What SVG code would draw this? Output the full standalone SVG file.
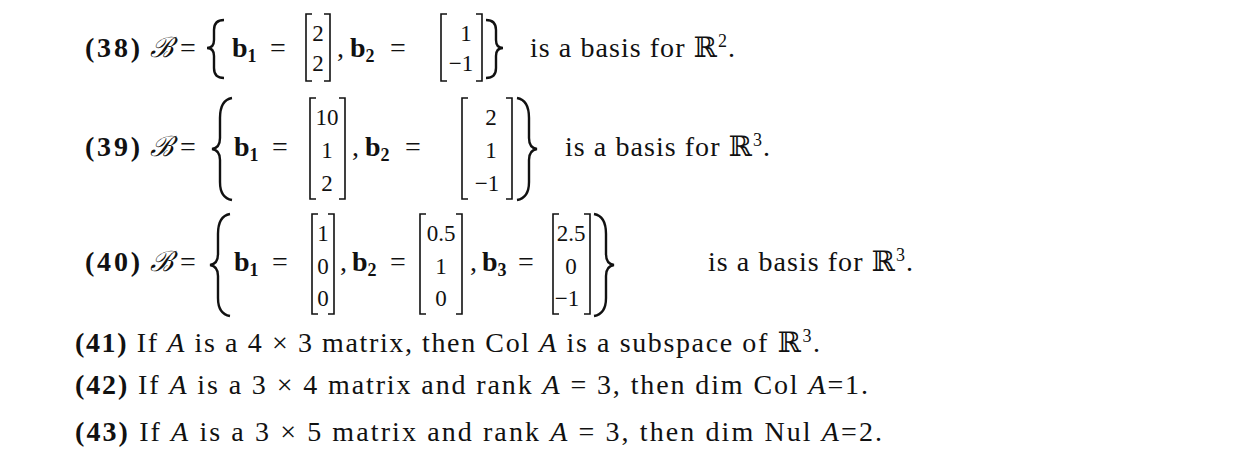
<svg xmlns="http://www.w3.org/2000/svg" width="1250" height="468" viewBox="0 0 1250 468">
<style>
text{font-family:"Liberation Serif","DejaVu Serif",serif;font-size:28px;fill:#111}
.b{font-weight:bold}
.m{font-size:23px}
.i{font-style:italic}
.s{font-size:18px;font-weight:bold}
.br{fill:none;stroke:#111;stroke-width:1.6}
.cb{fill:none;stroke:#111;stroke-width:2.4}
</style>
<rect width="1250" height="468" fill="#fff"/>
<g id="row38">
<text x="85" y="57" class="b" textLength="55">(38)</text>
<text x="150" y="57"><tspan class="i">ℬ</tspan> =</text>
<path class="cb" d="M224,20 Q214,20 214,30 L214,40 Q214,48 207,48 Q214,48 214,56 L214,68 Q214,78 224,78"/>
<text x="232" y="57" class="b">b<tspan class="s" dy="5">1</tspan></text>
<text x="270" y="57">=</text>
<path class="br" d="M312,14 H306 V81 H312 M324,14 H330 V81 H324"/>
<text class="m" x="318" y="41" text-anchor="middle">2</text>
<text class="m" x="318" y="71" text-anchor="middle">2</text>
<text x="337" y="57">,</text>
<text x="350" y="57" class="b">b<tspan class="s" dy="5">2</tspan></text>
<text x="390" y="57">=</text>
<path class="br" d="M447,14 H441 V81 H447 M476,14 H482 V81 H476"/>
<text class="m" x="466" y="41" text-anchor="middle">1</text>
<text class="m" x="461" y="71" text-anchor="middle">−1</text>
<path class="cb" d="M486,20 Q496,20 496,30 L496,40 Q496,48 503,48 Q496,48 496,56 L496,68 Q496,78 486,78"/>
<text x="530" y="57" textLength="205">is a basis for ℝ<tspan font-size="18" dy="-10">2</tspan><tspan dy="10">.</tspan></text>
</g>
<g id="row39">
<text x="85" y="156" class="b" textLength="55">(39)</text>
<text x="150" y="156"><tspan class="i">ℬ</tspan> =</text>
<path class="cb" d="M232,98 Q220,100 220,118 L220,138 Q220,148 212,149 Q220,150 220,160 L220,182 Q220,198 232,200"/>
<text x="234" y="156" class="b">b<tspan class="s" dy="5">1</tspan></text>
<text x="272" y="156">=</text>
<path class="br" d="M316,98 H310 V199 H316 M339,98 H345 V199 H339"/>
<text class="m" x="327" y="125" text-anchor="middle">10</text>
<text class="m" x="327" y="158" text-anchor="middle">1</text>
<text class="m" x="327" y="191" text-anchor="middle">2</text>
<text x="352" y="156">,</text>
<text x="365" y="156" class="b">b<tspan class="s" dy="5">2</tspan></text>
<text x="405" y="156">=</text>
<path class="br" d="M468,98 H462 V199 H468 M506,98 H512 V199 H506"/>
<text class="m" x="491" y="125" text-anchor="middle">2</text>
<text class="m" x="491" y="158" text-anchor="middle">1</text>
<text class="m" x="487" y="191" text-anchor="middle">−1</text>
<path class="cb" d="M517,98 Q529,100 529,118 L529,138 Q529,148 537,149 Q529,150 529,160 L529,182 Q529,198 517,200"/>
<text x="565" y="156" textLength="205">is a basis for ℝ<tspan font-size="18" dy="-10">3</tspan><tspan dy="10">.</tspan></text>
</g>
<g id="row40">
<text x="85" y="271" class="b" textLength="55">(40)</text>
<text x="150" y="271"><tspan class="i">ℬ</tspan> =</text>
<path class="cb" d="M230,214 Q218,216 218,234 L218,254 Q218,264 210,265 Q218,266 218,276 L218,298 Q218,314 230,316"/>
<text x="234" y="271" class="b">b<tspan class="s" dy="5">1</tspan></text>
<text x="272" y="271">=</text>
<path class="br" d="M318,214 H312 V314 H318 M328,214 H334 V314 H328"/>
<text class="m" x="323" y="241" text-anchor="middle">1</text>
<text class="m" x="323" y="274" text-anchor="middle">0</text>
<text class="m" x="323" y="306" text-anchor="middle">0</text>
<text x="340" y="271">,</text>
<text x="352" y="271" class="b">b<tspan class="s" dy="5">2</tspan></text>
<text x="390" y="271">=</text>
<path class="br" d="M426,214 H420 V314 H426 M456,214 H462 V314 H456"/>
<text class="m" x="441" y="241" text-anchor="middle">0.5</text>
<text class="m" x="441" y="274" text-anchor="middle">1</text>
<text class="m" x="441" y="306" text-anchor="middle">0</text>
<text x="470" y="271">,</text>
<text x="482" y="271" class="b">b<tspan class="s" dy="5">3</tspan></text>
<text x="518" y="271">=</text>
<path class="br" d="M559,214 H553 V314 H559 M584,214 H590 V314 H584"/>
<text class="m" x="571" y="241" text-anchor="middle">2.5</text>
<text class="m" x="571" y="274" text-anchor="middle">0</text>
<text class="m" x="567" y="306" text-anchor="middle">−1</text>
<path class="cb" d="M594,214 Q606,216 606,234 L606,254 Q606,264 614,265 Q606,266 606,276 L606,298 Q606,314 594,316"/>
<text x="708" y="271" textLength="205">is a basis for ℝ<tspan font-size="18" dy="-10">3</tspan><tspan dy="10">.</tspan></text>
</g>
<g id="row41"><text x="75" y="352" textLength="745"><tspan class="b">(41)</tspan> If <tspan class="i">A</tspan> is a 4 × 3 matrix, then Col <tspan class="i">A</tspan> is a subspace of ℝ<tspan font-size="18" dy="-10">3</tspan><tspan dy="10">.</tspan></text></g>
<g id="row42"><text x="75" y="394" textLength="793"><tspan class="b">(42)</tspan> If <tspan class="i">A</tspan> is a 3 × 4 matrix and rank <tspan class="i">A</tspan> = 3, then dim Col <tspan class="i">A</tspan>=1.</text></g>
<g id="row43"><text x="75" y="441" textLength="807"><tspan class="b">(43)</tspan> If <tspan class="i">A</tspan> is a 3 × 5 matrix and rank <tspan class="i">A</tspan> = 3, then dim Nul <tspan class="i">A</tspan>=2.</text></g>
</svg>
